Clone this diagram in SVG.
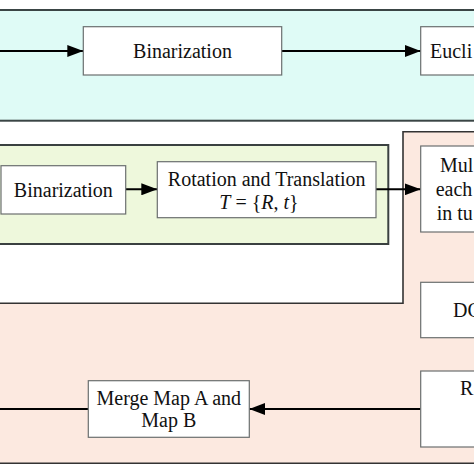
<svg xmlns="http://www.w3.org/2000/svg" width="474" height="474" viewBox="0 0 474 474">
<style>
.box{fill:#ffffff;stroke:#6b6f6f;stroke-width:1.2}
.lbl{font-family:"Liberation Serif","Times New Roman",serif;font-size:20px;fill:#111}
.conn{stroke:#000;stroke-width:2;fill:none}
.it{font-style:italic}
</style>
<defs>
<marker id="ah" markerUnits="userSpaceOnUse" markerWidth="17" markerHeight="12" refX="16" refY="6" orient="auto">
<path d="M0,0 L16,6 L0,12 Z" fill="#000"/>
</marker>
</defs>
<rect width="474" height="474" fill="#ffffff"/>
<g id="panels">
<rect x="-5" y="10" width="490" height="110.7" fill="#dffbf6" stroke="#3a4545" stroke-width="2"/>
<path d="M403,131.7 H480 V463.3 H-10 V303.3 H403 Z" fill="#fce9e0" stroke="#333" stroke-width="1.6"/>
<rect x="-5" y="145" width="393.3" height="99" fill="#eef8dc" stroke="#3a4040" stroke-width="2"/>
</g>
<g id="connectors">
<line class="conn" x1="-2" y1="51" x2="83.3" y2="51" marker-end="url(#ah)"/>
<line class="conn" x1="281.7" y1="51" x2="420.7" y2="51" marker-end="url(#ah)"/>
<line class="conn" x1="125.7" y1="189.3" x2="157.3" y2="189.3" marker-end="url(#ah)"/>
<line class="conn" x1="376" y1="189.3" x2="420.7" y2="189.3" marker-end="url(#ah)"/>
<line class="conn" x1="420.7" y1="409" x2="249.3" y2="409" marker-end="url(#ah)"/>
<line class="conn" x1="88.3" y1="409" x2="-2" y2="409"/>
</g>
<g id="binarization-top">
<rect class="box" x="83.3" y="26.7" width="198.4" height="48.3"/>
<text class="lbl" x="182.5" y="58" text-anchor="middle">Binarization</text>
</g>
<g id="euclid">
<rect class="box" x="420.7" y="26.7" width="60" height="48.3"/>
<text class="lbl" x="430" y="58">Eucli</text>
</g>
<g id="binarization-b">
<rect class="box" x="1" y="165.7" width="124.7" height="48.3"/>
<text class="lbl" x="63.3" y="197" text-anchor="middle">Binarization</text>
</g>
<g id="rotation">
<rect class="box" x="157.3" y="161.7" width="218.7" height="56"/>
<text class="lbl" x="266.7" y="185.7" text-anchor="middle">Rotation and Translation</text>
<text class="lbl" x="259" y="209.3" text-anchor="middle"><tspan class="it">T</tspan> = {<tspan class="it">R</tspan>, <tspan class="it">t</tspan>}</text>
</g>
<g id="multiply">
<rect class="box" x="420.7" y="146" width="60" height="86"/>
<text class="lbl" x="440" y="171.7">Mul</text>
<text class="lbl" x="435.7" y="195.7">each</text>
<text class="lbl" x="436.7" y="220">in tu</text>
</g>
<g id="dc">
<rect class="box" x="420.7" y="282.3" width="60" height="55.4"/>
<text class="lbl" x="453" y="316.7">DC</text>
</g>
<g id="r-box">
<rect class="box" x="420.7" y="371" width="60" height="76"/>
<text class="lbl" x="460" y="395">R</text>
</g>
<g id="merge">
<rect class="box" x="88.3" y="380.7" width="161" height="56.6"/>
<text class="lbl" x="168.8" y="405" text-anchor="middle">Merge Map A and</text>
<text class="lbl" x="168.8" y="427.3" text-anchor="middle">Map B</text>
</g>
</svg>
